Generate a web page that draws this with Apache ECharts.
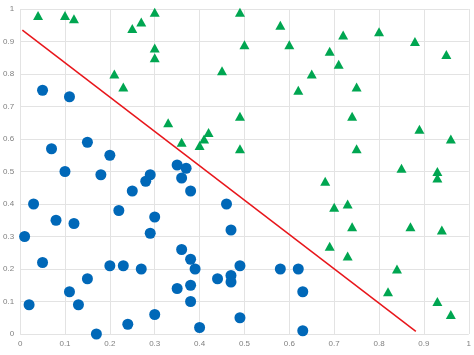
<!DOCTYPE html>
<html>
<head>
<meta charset="utf-8">
<script src="https://cdn.jsdelivr.net/npm/echarts@6/dist/echarts.min.js"></script>
<style>
html,body{margin:0;padding:0;background:#fff;}
#chart_div{width:474px;height:355px;}
</style>
</head>
<body>
<div id="chart_div"></div>
<script>
// blue class points [x, y]
var bluePts = [
	[0.01,0.30],[0.05,0.22],[0.02,0.09],[0.11,0.13],[0.13,0.09],[0.15,0.17],[0.17,0.00],
	[0.20,0.21],[0.23,0.21],[0.27,0.20],[0.24,0.03],[0.29,0.31],[0.30,0.06],[0.47,0.32],
	[0.36,0.26],[0.38,0.23],[0.39,0.20],[0.49,0.21],[0.44,0.17],[0.47,0.18],[0.47,0.16],
	[0.35,0.14],[0.38,0.15],[0.38,0.10],[0.49,0.05],[0.40,0.02],[0.58,0.20],[0.62,0.20],
	[0.63,0.13],[0.63,0.01],[0.07,0.57],[0.15,0.59],[0.20,0.55],[0.10,0.50],[0.18,0.49],
	[0.29,0.49],[0.28,0.47],[0.25,0.44],[0.03,0.40],[0.22,0.38],[0.08,0.35],[0.12,0.34],
	[0.30,0.36],[0.05,0.75],[0.11,0.73],[0.35,0.52],[0.37,0.51],[0.36,0.48],[0.38,0.44],
	[0.46,0.40]
];
// green class points [x, y]
var greenPts = [
	[0.04,0.98],[0.10,0.98],[0.12,0.97],[0.25,0.94],[0.27,0.96],[0.30,0.99],[0.30,0.88],
	[0.30,0.85],[0.21,0.80],[0.23,0.76],[0.49,0.99],[0.58,0.95],[0.50,0.89],[0.60,0.89],
	[0.45,0.81],[0.62,0.75],[0.72,0.92],[0.80,0.93],[0.88,0.90],[0.95,0.86],[0.69,0.87],
	[0.71,0.83],[0.65,0.80],[0.75,0.76],[0.74,0.67],[0.49,0.67],[0.33,0.65],[0.42,0.62],
	[0.41,0.60],[0.36,0.59],[0.40,0.58],[0.49,0.57],[0.89,0.63],[0.96,0.60],[0.75,0.57],
	[0.85,0.51],[0.93,0.50],[0.93,0.48],[0.68,0.47],[0.73,0.40],[0.70,0.39],[0.74,0.33],
	[0.87,0.33],[0.94,0.32],[0.69,0.27],[0.73,0.24],[0.84,0.20],[0.82,0.13],[0.93,0.10],
	[0.96,0.06]
];
// separating line end points
var linePts = [[0.005,0.935],[0.882,0.008]];

var myChart = echarts.init(document.getElementById('chart_div'));

var axisStyle = {
	type : 'value',
	min : 0,
	max : 1,
	interval : 0.1,
	axisLine : { show : false },
	axisTick : { show : false },
	splitLine : { lineStyle : { color : '#e3e3e3', width : 1 } },
	axisLabel : { color : '#7f7f7f', fontSize : 8, fontFamily : 'Liberation Sans', margin : 6 }
};

var option = {
	animation : false,
	grid : { left : 19, right : 5, top : 9, bottom : 21 },
	xAxis : Object.assign({}, axisStyle),
	yAxis : Object.assign({}, axisStyle),
	series : [ {
		type : 'scatter',
		data : bluePts,
		symbol : 'circle',
		symbolSize : 11,
		itemStyle : { color : '#0068b8', opacity : 1 }
	}, {
		type : 'scatter',
		data : greenPts,
		symbol : 'triangle',
		symbolSize : [10, 9],
		itemStyle : { color : '#00a651', opacity : 1 }
	}, {
		type : 'line',
		data : linePts,
		symbol : 'none',
		lineStyle : { color : '#e8161b', width : 1.5 }
	} ]
};

myChart.setOption(option);
</script>
</body>
</html>
